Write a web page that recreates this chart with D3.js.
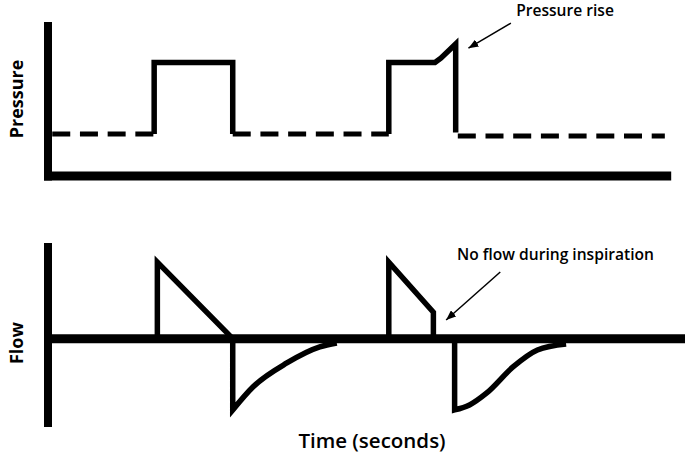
<!DOCTYPE html>
<html>
<head>
<meta charset="utf-8">
<script src="https://cdn.jsdelivr.net/npm/d3@7"></script>
<style>
  body { margin: 0; background: #fff; }
  svg { display: block; }
  .label { font-family: "Open Sans", sans-serif; font-weight: 700; fill: #000; }
  .note { font-family: "Open Sans", sans-serif; font-weight: 600; fill: #000; font-size: 15.6px; }
</style>
</head>
<body>
<svg id="chart"></svg>
<script>
// Time in seconds, pressure in cmH2O, flow in L/min (schematic values)
const peepSegments = [[0.04, 1.0, 10.9], [1.74, 3.21, 10.9], [3.86, 5.81, 10.4]];
const pressureBreath1 = [[1.0, 10.9], [1.0, 29.5], [1.74, 29.5], [1.74, 10.9]];
const pressureBreath2 = [[3.21, 10.9], [3.21, 29.5], [3.645, 29.5], [3.70, 30.6], [3.84, 34.3], [3.84, 11.3]];

const flowInsp1 = [[1.03, 0], [1.03, 52], [1.74, 0]];
const flowInsp2 = [[3.21, 0], [3.21, 52], [3.63, 18], [3.63, 0]];
const flowExp1 = [[1.74, -48.4], [1.93, -32.8], [2.25, -16.5], [2.56, -5.6], [2.72, -2.9]];
const flowExp2 = [[3.83, -48.4], [3.97, -45], [4.13, -37], [4.38, -19.2], [4.61, -7.7], [4.88, -3.6]];

const pressureNote = { text: 'Pressure rise', t: 4.87, v: 41.6, from: [4.36, 39.7], to: [3.96, 33.2] };
const flowNote = { text: 'No flow during inspiration', t: 4.78, v: 53.6, from: [4.26, 45.3], to: [3.75, 12.7] };

const width = 685;
const height = 457;

const svg = d3.select('#chart')
  .attr('width', width)
  .attr('height', height);

const x = d3.scaleLinear().domain([0, 6]).range([48, 685]);
const yP = d3.scaleLinear().domain([0, 40]).range([176, 22]);
const yF = d3.scaleLinear().domain([-60, 65]).range([427, 243]);

svg.append('defs').append('marker')
  .attr('id', 'arrow')
  .attr('viewBox', '0 0 10 8')
  .attr('refX', 10)
  .attr('refY', 4)
  .attr('markerWidth', 10)
  .attr('markerHeight', 8)
  .attr('markerUnits', 'userSpaceOnUse')
  .attr('orient', 'auto')
  .append('path')
  .attr('d', 'M0,0L10,4L0,8z')
  .attr('fill', '#000');

// ---- Pressure panel ----
const pressureG = svg.append('g').attr('class', 'pressure');
const lineP = d3.line().x(d => x(d[0])).y(d => yP(d[1]));

// axes
pressureG.append('line')
  .attr('x1', x(0)).attr('x2', x(0))
  .attr('y1', yP(40)).attr('y2', yP(0) + 4.5)
  .attr('stroke', '#000').attr('stroke-width', 8);
pressureG.append('line')
  .attr('x1', x(0) - 4).attr('x2', x(5.87))
  .attr('y1', yP(0)).attr('y2', yP(0))
  .attr('stroke', '#000').attr('stroke-width', 9);

// dashed PEEP baseline
pressureG.selectAll('line.peep')
  .data(peepSegments)
  .join('line')
  .attr('class', 'peep')
  .attr('x1', d => x(d[0])).attr('x2', d => x(d[1]))
  .attr('y1', d => yP(d[2])).attr('y2', d => yP(d[2]))
  .attr('stroke', '#000')
  .attr('stroke-width', 5)
  .attr('stroke-dasharray', '18,9.7');

pressureG.selectAll('path.breath')
  .data([pressureBreath1, pressureBreath2])
  .join('path')
  .attr('class', 'breath')
  .attr('d', lineP)
  .attr('fill', 'none')
  .attr('stroke', '#000')
  .attr('stroke-width', 5.5)
  .attr('stroke-linejoin', 'miter');

// ---- Flow panel ----
const flowG = svg.append('g').attr('class', 'flow');
const lineF = d3.line().x(d => x(d[0])).y(d => yF(d[1]));
const curveF = d3.line().x(d => x(d[0])).y(d => yF(d[1])).curve(d3.curveMonotoneX);

flowG.append('line')
  .attr('x1', x(0)).attr('x2', x(0))
  .attr('y1', yF(65)).attr('y2', yF(-60))
  .attr('stroke', '#000').attr('stroke-width', 8);
flowG.append('line')
  .attr('x1', x(0) - 4).attr('x2', x(6))
  .attr('y1', yF(0)).attr('y2', yF(0))
  .attr('stroke', '#000').attr('stroke-width', 9);

flowG.selectAll('path.insp')
  .data([flowInsp1, flowInsp2])
  .join('path')
  .attr('class', 'insp')
  .attr('d', lineF)
  .attr('fill', 'none')
  .attr('stroke', '#000')
  .attr('stroke-width', 5.5);

// expiration: vertical drop from zero then the decay curve
flowG.selectAll('path.exp')
  .data([flowExp1, flowExp2])
  .join('path')
  .attr('class', 'exp')
  .attr('d', d => `M${x(d[0][0])},${yF(0)}L` + curveF(d).slice(1))
  .attr('fill', 'none')
  .attr('stroke', '#000')
  .attr('stroke-width', 5.5);

// ---- Annotations ----
const notes = [
  { n: pressureNote, y: yP },
  { n: flowNote, y: yF }
];
notes.forEach(({ n, y }) => {
  svg.append('text')
    .attr('class', 'note')
    .attr('x', x(n.t))
    .attr('y', y(n.v))
    .attr('text-anchor', 'middle')
    .text(n.text);
  svg.append('line')
    .attr('x1', x(n.from[0])).attr('y1', y(n.from[1]))
    .attr('x2', x(n.to[0])).attr('y2', y(n.to[1]))
    .attr('stroke', '#000')
    .attr('stroke-width', 1.5)
    .attr('marker-end', 'url(#arrow)');
});

// ---- Axis titles ----
svg.append('text')
  .attr('class', 'label')
  .attr('transform', `translate(23, ${yP(20)}) rotate(-90)`)
  .attr('text-anchor', 'middle')
  .style('font-size', '18px')
  .text('Pressure');

svg.append('text')
  .attr('class', 'label')
  .attr('transform', `translate(23, ${yF(-3)}) rotate(-90)`)
  .attr('text-anchor', 'middle')
  .style('font-size', '18px')
  .text('Flow');

svg.append('text')
  .attr('class', 'label')
  .attr('x', 372)
  .attr('y', 448)
  .attr('text-anchor', 'middle')
  .style('font-size', '20.5px')
  .style('font-weight', 600)
  .text('Time (seconds)');
</script>
</body>
</html>
